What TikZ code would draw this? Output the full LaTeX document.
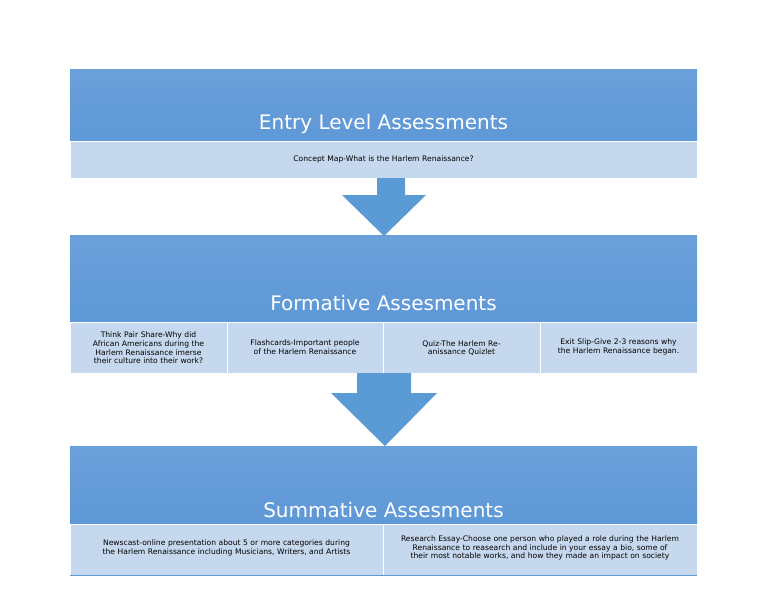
\documentclass[tikz,border=0pt]{standalone}
\usepackage{fontspec}
\setmainfont{DejaVu Sans}
\definecolor{dk}{HTML}{6AA0DA}
\definecolor{dk2}{HTML}{5E98D6}
\definecolor{lt}{HTML}{C6D8ED}
\definecolor{ar}{HTML}{5B9BD5}
\begin{document}
\begin{tikzpicture}[x=1pt,y=-1pt,
  band/.style={top color=dk,bottom color=dk2,draw=none},
  cell/.style={fill=lt,draw=white,line width=0.4pt},
  title/.style={text=white,font=\fontsize{20}{24}\selectfont},
  small/.style={font=\fontsize{7.6}{8.6}\selectfont,align=center,text width=150pt},
  arrowshape/.style={fill=ar,draw=none}]
\useasboundingbox (0,0) rectangle (768,594);
\fill[white] (0,0) rectangle (768,594);
% block 1
\path[band] (70,70) rectangle (697,141);
\node[title] (t1) at (383.5,124) {Entry Level Assessments};
\path[cell] (70,141) rectangle (697,178);
\node[small,text width=400pt] (c1) at (383.5,159) {Concept Map-What is the Harlem Renaissance?};
% arrow 1
\path[arrowshape] (377,178) -- (405,178) -- (405,195) -- (426,195) -- (384,236) -- (342,195) -- (377,195) -- cycle;
% block 2
\path[band] (70,235) rectangle (697,322);
\node[title] (t2) at (383.5,303) {Formative Assesments};
\foreach \i/\a/\b in {0/70/227,1/227/383,2/383/540,3/540/697}{\path[cell] (\a,322) rectangle (\b,373);}
\node[small] (f1) at (148.5,348) {Think Pair Share-Why did African Americans during the Harlem Renaissance imerse their culture into their work?};
\node[small,text width=130pt] (f2) at (305,347) {Flashcards-Important people of the Harlem Renaissance};
\node[small,text width=130pt] (f3) at (461.5,348) {Quiz-The Harlem Reanissance Quizlet};
\node[small,text width=140pt] (f4) at (618.5,347) {Exit Slip-Give 2-3 reasons why the Harlem Renaissance began.};
% arrow 2
\path[arrowshape] (357,373) -- (411,373) -- (411,393) -- (437,393) -- (385,446) -- (331,393) -- (357,393) -- cycle;
% block 3
\path[band] (70,446) rectangle (697,524);
\node[title] (t3) at (383.5,510) {Summative Assesments};
\path[cell] (70,524) rectangle (383,575);
\path[cell] (383,524) rectangle (697,575);
\draw[ar,line width=1pt] (70,575) -- (697,575);
\node[small,text width=290pt] (s1) at (226.5,548) {Newscast-online presentation about 5 or more categories during the Harlem Renaissance including Musicians, Writers, and Artists};
\node[small,text width=300pt] (s2) at (540,548) {Research Essay-Choose one person who played a role during the Harlem Renaissance to reasearch and include in your essay a bio, some of their most notable works, and how they made an impact on society};
\end{tikzpicture}
\end{document}
